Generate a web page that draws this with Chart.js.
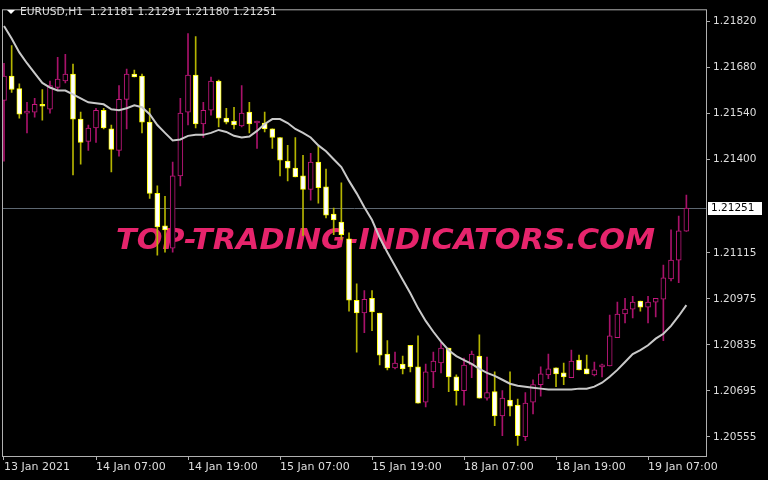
<!DOCTYPE html>
<html>
<head>
<meta charset="utf-8">
<script src="https://cdn.jsdelivr.net/npm/chart.js@4"></script>
<style>
  html, body { margin: 0; padding: 0; background: #000; }
  #wrap { width: 768px; height: 480px; }
</style>
</head>
<body>
<div id="wrap"><canvas id="priceChart" width="768" height="480"></canvas></div>
<script>
// EURUSD H1 candles
const opens = [1.21579,1.21653,1.21615,1.21540,1.21543,1.21567,1.21552,1.21618,1.21638,1.21659,
  1.21522,1.21454,1.21495,1.21549,1.21492,1.21427,1.21582,1.21659,1.21653,1.21513,
  1.21296,1.21197,1.21129,1.21349,1.21543,1.21656,1.21507,1.21549,1.21638,1.21525,
  1.21516,1.21501,1.21543,1.21510,1.21510,1.21492,1.21466,1.21394,1.21373,1.21349,
  1.21308,1.21391,1.21316,1.21233,1.21209,1.21158,1.20971,1.20932,1.20977,1.20932,
  1.20807,1.20765,1.20777,1.20834,1.20768,1.20661,1.20753,1.20780,1.20825,1.20738,
  1.20696,1.20774,1.20801,1.20673,1.20693,1.20619,1.20667,1.20652,1.20556,1.20661,
  1.20714,1.20744,1.20765,1.20750,1.20735,1.20789,1.20762,1.20744,1.20768,1.20771,
  1.20857,1.20929,1.20944,1.20968,1.20950,1.20965,1.20974,1.21036,1.21093,1.21181];
const highs = [1.21692,1.21746,1.21629,1.21573,1.21585,1.21612,1.21638,1.21710,1.21719,1.21689,
  1.21543,1.21504,1.21555,1.21555,1.21504,1.21624,1.21674,1.21671,1.21659,1.21555,
  1.21319,1.21287,1.21391,1.21585,1.21782,1.21773,1.21573,1.21650,1.21641,1.21555,
  1.21558,1.21624,1.21573,1.21516,1.21543,1.21492,1.21466,1.21442,1.21466,1.21412,
  1.21418,1.21439,1.21370,1.21251,1.21328,1.21176,1.21021,1.21000,1.21000,1.20932,
  1.20848,1.20813,1.20801,1.20834,1.20863,1.20777,1.20813,1.20842,1.20825,1.20744,
  1.20795,1.20816,1.20866,1.20798,1.20753,1.20696,1.20753,1.20670,1.20690,1.20729,
  1.20768,1.20807,1.20765,1.20780,1.20819,1.20804,1.20804,1.20783,1.20777,1.20926,
  1.20965,1.20977,1.20983,1.20968,1.20983,1.20977,1.21078,1.21185,1.21227,1.21291];
const lows = [1.21394,1.21603,1.21525,1.21480,1.21528,1.21519,1.21540,1.21609,1.21632,1.21352,
  1.21385,1.21427,1.21451,1.21492,1.21361,1.21409,1.21492,1.21650,1.21480,1.21281,
  1.21108,1.21117,1.21117,1.21319,1.21504,1.21495,1.21466,1.21534,1.21498,1.21507,
  1.21492,1.21498,1.21480,1.21433,1.21483,1.21433,1.21349,1.21334,1.21346,1.21167,
  1.21275,1.21266,1.21221,1.21170,1.21156,1.20938,1.20813,1.20872,1.20878,1.20774,
  1.20759,1.20762,1.20747,1.20753,1.20658,1.20646,1.20705,1.20750,1.20693,1.20652,
  1.20652,1.20735,1.20673,1.20667,1.20589,1.20559,1.20619,1.20529,1.20544,1.20625,
  1.20679,1.20732,1.20708,1.20714,1.20735,1.20759,1.20747,1.20741,1.20738,1.20771,
  1.20857,1.20902,1.20917,1.20938,1.20902,1.20920,1.20848,1.21030,1.21024,1.21180];
const closes = [1.21653,1.21612,1.21537,1.21543,1.21567,1.21561,1.21624,1.21644,1.21659,1.21522,
  1.21451,1.21495,1.21549,1.21495,1.21430,1.21582,1.21659,1.21650,1.21513,1.21296,
  1.21194,1.21185,1.21349,1.21540,1.21656,1.21507,1.21549,1.21638,1.21525,1.21513,
  1.21504,1.21540,1.21507,1.21516,1.21492,1.21466,1.21397,1.21373,1.21346,1.21308,
  1.21391,1.21313,1.21230,1.21215,1.21170,1.20971,1.20932,1.20974,1.20935,1.20804,
  1.20765,1.20780,1.20762,1.20768,1.20658,1.20753,1.20786,1.20825,1.20738,1.20696,
  1.20774,1.20807,1.20673,1.20690,1.20619,1.20673,1.20649,1.20559,1.20658,1.20714,
  1.20747,1.20762,1.20747,1.20738,1.20786,1.20759,1.20747,1.20759,1.20774,1.20863,
  1.20929,1.20944,1.20965,1.20950,1.20965,1.20977,1.21039,1.21093,1.21182,1.21251];
// moving average line
const maValues = [1.21805,1.21767,1.21725,1.21692,1.21662,1.21632,1.21618,1.21609,1.21609,1.21597,
  1.21585,1.21573,1.21570,1.21567,1.21552,1.21549,1.21555,1.21564,1.21558,1.21537,
  1.21504,1.21480,1.21457,1.21460,1.21471,1.21474,1.21474,1.21480,1.21489,1.21483,
  1.21471,1.21466,1.21469,1.21486,1.21507,1.21522,1.21522,1.21510,1.21492,1.21480,
  1.21466,1.21442,1.21424,1.21400,1.21376,1.21334,1.21296,1.21254,1.21215,1.21161,
  1.21117,1.21075,1.21033,1.20992,1.20947,1.20908,1.20875,1.20845,1.20819,1.20801,
  1.20789,1.20777,1.20762,1.20750,1.20741,1.20729,1.20717,1.20711,1.20708,1.20705,
  1.20702,1.20699,1.20699,1.20699,1.20699,1.20702,1.20702,1.20708,1.20720,1.20738,
  1.20759,1.20783,1.20807,1.20819,1.20834,1.20854,1.20869,1.20893,1.20923,1.20956];

// axis labels
const xTickIndex = [0, 12, 24, 36, 48, 60, 72, 84];
const xTickLabels = ['13 Jan 2021', '14 Jan 07:00', '14 Jan 19:00', '15 Jan 07:00',
  '15 Jan 19:00', '18 Jan 07:00', '18 Jan 19:00', '19 Jan 07:00'];
const yTickValues = [1.21820, 1.21680, 1.21540, 1.21400, 1.21115, 1.20975, 1.20835, 1.20695, 1.20555];
const symbolName = 'EURUSD,H1';

const BULL = '#c3187e';
const BULL_WICK = '#a8126a';
const BEAR = '#ffff00';
const BEAR_WICK = '#b4b400';
const TEXT = '#dedede';
const AXIS = '#b0b0b0';

const isBull = i => closes[i] >= opens[i];
const last = closes.length - 1;

// extra drawing: frame, price line, bid label, header, watermark
const mtDecor = {
    id: 'mtDecor',
    beforeDatasetsDraw(chart) {
        const ctx = chart.ctx;
        const area = chart.chartArea;
        const y = Math.round(chart.scales.y.getPixelForValue(closes[last])) + 0.5;
        ctx.save();
        ctx.strokeStyle = '#5d6771';
        ctx.lineWidth = 1;
        ctx.beginPath();
        ctx.moveTo(area.left, y);
        ctx.lineTo(area.right, y);
        ctx.stroke();

        // watermark
        const text = 'TOP-TRADING-INDICATORS.COM';
        ctx.font = 'bold italic 29px "DejaVu Sans"';
        const w = ctx.measureText(text).width;
        ctx.translate(116, 249);
        ctx.scale(539 / w, 1);
        ctx.fillStyle = '#e6246c';
        ctx.textBaseline = 'alphabetic';
        ctx.fillText(text, 0, 0);
        ctx.restore();
    },
    afterDraw(chart) {
        const ctx = chart.ctx;
        const area = chart.chartArea;
        ctx.save();
        ctx.strokeStyle = AXIS;
        ctx.lineWidth = 1;
        ctx.strokeRect(area.left + 0.5, area.top + 0.5, area.right - area.left - 1, area.bottom - area.top - 1);

        // bid label on price axis
        const y = Math.round(chart.scales.y.getPixelForValue(closes[last]));
        ctx.fillStyle = '#ffffff';
        ctx.fillRect(area.right + 1, y - 6, 54, 13);
        ctx.fillStyle = '#000000';
        ctx.font = '10.5px "DejaVu Sans"';
        ctx.textBaseline = 'middle';
        ctx.fillText(closes[last].toFixed(5), area.right + 4, y + 0.5);

        // header
        ctx.fillStyle = '#ffffff';
        ctx.beginPath();
        ctx.moveTo(7, 10);
        ctx.lineTo(15, 10);
        ctx.lineTo(11, 14);
        ctx.closePath();
        ctx.fill();
        ctx.fillStyle = TEXT;
        ctx.font = '10.7px "DejaVu Sans"';
        const head = symbolName + '  ' + [opens[last], highs[last], lows[last], closes[last]]
            .map(v => v.toFixed(5)).join(' ');
        ctx.fillText(head, 20, 12.5);
        ctx.restore();
    }
};

const ctx = document.getElementById('priceChart');
new Chart(ctx, {
    type: 'bar',
    data: {
        datasets: [{
            type: 'line',
            label: 'MA',
            data: maValues.map((v, i) => ({ x: i, y: v })),
            borderColor: '#c9c9c9',
            borderWidth: 2,
            pointRadius: 0,
            tension: 0,
            order: 0
        }, {
            label: 'Body',
            data: opens.map((o, i) => ({ x: i, y: [o, closes[i]] })),
            backgroundColor: c => isBull(c.dataIndex) ? '#000000' : '#ffffff',
            borderColor: c => isBull(c.dataIndex) ? BULL : BEAR,
            borderWidth: 1,
            borderSkipped: false,
            barThickness: 5,
            minBarLength: 2,
            grouped: false,
            order: 1
        }, {
            label: 'Wick',
            data: lows.map((l, i) => ({ x: i, y: [l, highs[i]] })),
            backgroundColor: c => isBull(c.dataIndex) ? BULL_WICK : BEAR_WICK,
            borderWidth: 0,
            barThickness: 1,
            grouped: false,
            order: 2
        }]
    },
    options: {
        responsive: false,
        animation: false,
        devicePixelRatio: 1,
        layout: { padding: { left: 2, top: 2, right: 0, bottom: 0 } },
        plugins: {
            legend: { display: false },
            tooltip: { enabled: false }
        },
        scales: {
            x: {
                type: 'linear',
                min: -0.26,
                max: 91.69,
                offset: false,
                afterBuildTicks: s => { s.ticks = xTickIndex.map(v => ({ value: v })); },
                afterFit: s => { s.height = 23; },
                grid: { offset: false, drawOnChartArea: false, tickLength: 3, color: AXIS },
                border: { display: false },
                ticks: {
                    align: 'start',
                    autoSkip: false,
                    maxRotation: 0,
                    padding: 1,
                    color: TEXT,
                    font: { family: 'DejaVu Sans', size: 11 },
                    callback: v => xTickLabels[xTickIndex.indexOf(v)]
                }
            },
            y: {
                position: 'right',
                min: 1.20494,
                max: 1.21856,
                afterBuildTicks: s => { s.ticks = yTickValues.map(v => ({ value: v })); },
                afterFit: s => { s.width = 61; },
                grid: { drawOnChartArea: false, tickLength: 3, color: AXIS },
                border: { display: false },
                ticks: {
                    autoSkip: false,
                    padding: 3,
                    color: TEXT,
                    font: { family: 'DejaVu Sans', size: 10.5 },
                    callback: v => Number(v).toFixed(5)
                }
            }
        }
    },
    plugins: [mtDecor]
});
</script>
</body>
</html>
